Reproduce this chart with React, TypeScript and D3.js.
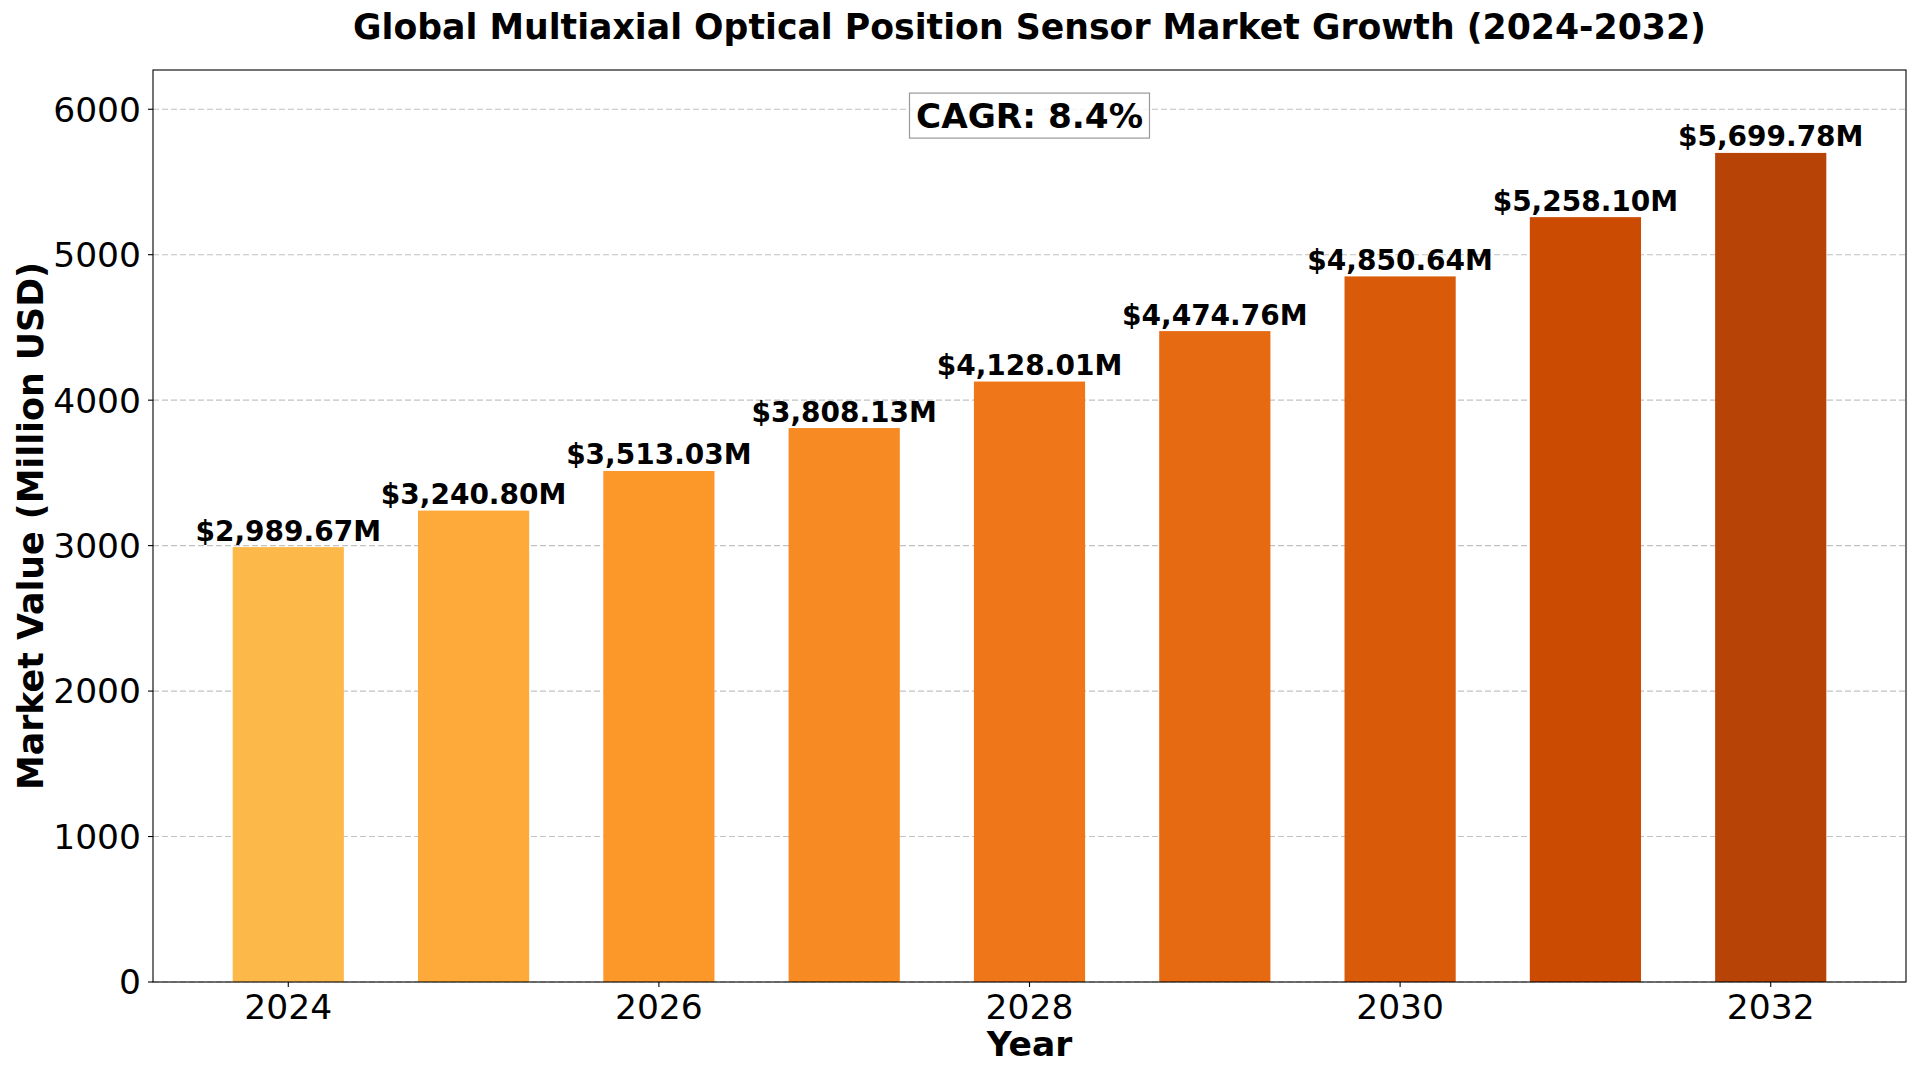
import React from "react";
import * as d3 from "d3";

const years = [2024, 2025, 2026, 2027, 2028, 2029, 2030, 2031, 2032];
const marketValues = [2989.67, 3240.8, 3513.03, 3808.13, 4128.01, 4474.76, 4850.64, 5258.1, 5699.78];
const xTickYears = [2024, 2026, 2028, 2030, 2032];
const yTicks = [0, 1000, 2000, 3000, 4000, 5000, 6000];
const cagrText = "CAGR: 8.4%";
const titleText = "Global Multiaxial Optical Position Sensor Market Growth (2024-2032)";

const BAR_COLORS = ["#FDB84A", "#FDAA3A", "#FC982A", "#F78A22", "#EF771A", "#E66A12", "#D95A09", "#CB4B02", "#B74306"];

const W = 1920;
const H = 1080;
const M = { left: 153, right: 1906, top: 70, bottom: 982 };
const FONT = "'DejaVu Sans', sans-serif";

export default function App() {
  const idx = years.map((_, i) => i);
  const barW = 0.6;
  const x = d3
    .scaleLinear()
    .domain([-barW / 2 - 0.05 * (years.length - 1 + barW), years.length - 1 + barW / 2 + 0.05 * (years.length - 1 + barW)])
    .range([M.left, M.right]);
  const yMax = d3.max(marketValues)! * 1.1;
  const y = d3.scaleLinear().domain([0, yMax]).range([M.bottom, M.top]);
  const fmt = d3.format(",.2f");
  const cx = (M.left + M.right) / 2;
  const cagrY = M.top + 0.05 * (M.bottom - M.top);

  return (
    <svg width={W} height={H} style={{ position: "absolute", left: 0, top: 0, background: "#fff" }} fontFamily={FONT}>
      <rect x={0} y={0} width={W} height={H} fill="#fff" />
      {/* grid */}
      {yTicks.map((t) => (
        <line key={"g" + t} x1={M.left} x2={M.right} y1={y(t)} y2={y(t)} stroke="#a8a8a8" strokeOpacity={0.7} strokeWidth={1.1} strokeDasharray="6,3" />
      ))}
      {/* bars */}
      {idx.map((i) => (
        <rect
          key={"b" + i}
          x={x(i - barW / 2)}
          width={x(i + barW / 2) - x(i - barW / 2)}
          y={y(marketValues[i])}
          height={y(0) - y(marketValues[i])}
          fill={BAR_COLORS[i]}
        />
      ))}
      {/* bar labels */}
      {idx.map((i) => (
        <text key={"l" + i} x={x(i)} y={y(marketValues[i]) - 6.5} textAnchor="middle" fontSize={28} fontWeight="bold" fill="#000">
          {"$" + fmt(marketValues[i]) + "M"}
        </text>
      ))}
      {/* frame */}
      <rect x={M.left} y={M.top} width={M.right - M.left} height={M.bottom - M.top} fill="none" stroke="#000" strokeWidth={1.1} />
      {/* y ticks */}
      {yTicks.map((t) => (
        <g key={"yt" + t}>
          <line x1={M.left - 5} x2={M.left} y1={y(t)} y2={y(t)} stroke="#000" strokeWidth={1.1} />
          <text x={M.left - 12} y={y(t)} dy="0.36em" textAnchor="end" fontSize={34.5} fill="#000">
            {t}
          </text>
        </g>
      ))}
      {/* x ticks */}
      {xTickYears.map((yr) => {
        const i = years.indexOf(yr);
        return (
          <g key={"xt" + yr}>
            <line x1={x(i)} x2={x(i)} y1={M.bottom} y2={M.bottom + 5} stroke="#000" strokeWidth={1.1} />
            <text x={x(i)} y={M.bottom + 37} textAnchor="middle" fontSize={34.5} fill="#000">
              {yr}
            </text>
          </g>
        );
      })}
      {/* axis labels */}
      <text x={cx} y={1056} textAnchor="middle" fontSize={34.5} fontWeight="bold" fill="#000">
        Year
      </text>
      <text
        transform={`translate(43, ${(M.top + M.bottom) / 2}) rotate(-90)`}
        textAnchor="middle"
        fontSize={34.8}
        fontWeight="bold"
        fill="#000"
      >
        Market Value (Million USD)
      </text>
      {/* title */}
      <text x={cx} y={39} textAnchor="middle" fontSize={34.7} fontWeight="bold" fill="#000">
        {titleText}
      </text>
      {/* CAGR box */}
      <rect x={cx - 120} y={cagrY - 22.5} width={240} height={45} fill="#fff" fillOpacity={0.8} stroke="#999" strokeWidth={1.2} />
      <text x={cx} y={cagrY} dy="0.36em" textAnchor="middle" fontSize={34.3} fontWeight="bold" fill="#000">
        {cagrText}
      </text>
    </svg>
  );
}
